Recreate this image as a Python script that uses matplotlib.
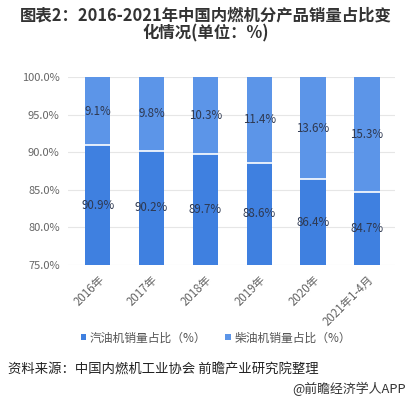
import matplotlib
matplotlib.use("Agg")
import matplotlib.pyplot as plt
import numpy as np

plt.rcParams['font.family'] = ['Noto Sans CJK SC', 'DejaVu Sans']

categories = ["2016年", "2017年", "2018年", "2019年", "2020年", "2021年1-4月"]
gasoline = [90.9, 90.2, 89.7, 88.6, 86.4, 84.7]
diesel = [9.1, 9.8, 10.3, 11.4, 13.6, 15.3]
yticks = [75, 80, 85, 90, 95, 100]

c_gas = "#3f80e0"
c_die = "#5c95e8"

fig = plt.figure(figsize=(4.11, 4.03), dpi=100)
ax = fig.add_axes([68/411, 1-265/403, (395-68)/411, (265-77)/403])

x = np.arange(len(categories))
w = 0.47
ax.bar(x, gasoline, w, bottom=0, color=c_gas, label="汽油机销量占比（%）", zorder=3)
ax.bar(x, diesel, w, bottom=gasoline, color=c_die, label="柴油机销量占比（%）", zorder=3)
for xi, g in zip(x, gasoline):
    ax.plot([xi - w/2, xi + w/2], [g, g], color="white", lw=1.2, zorder=4)

for xi, g, d in zip(x, gasoline, diesel):
    ax.text(xi, (75 + g) / 2, f"{g:.1f}%", ha="center", va="center", fontsize=8.3, color="#2e3850", zorder=5)
    ax.text(xi, g + d / 2, f"{d:.1f}%", ha="center", va="center", fontsize=8.3, color="#2e3850", zorder=5)

ax.set_ylim(75, 100)
ax.set_xlim(-0.55, 5.52)
ax.set_yticks(yticks)
ax.set_yticklabels([f"{v:.1f}%" for v in yticks], fontsize=8, color="#666666")
ax.set_xticks(x)
ax.set_xticklabels(categories, rotation=45, ha="right", rotation_mode="anchor", fontsize=8.3, color="#666666")
ax.tick_params(length=0, pad=6)
ax.grid(axis="y", color="#e6e6e6", lw=0.8, zorder=0)
for s in ax.spines.values():
    s.set_visible(False)

fig.text(0.5, 1-15/403, "图表2：2016-2021年中国内燃机分产品销量占比变", ha="center", va="center",
         fontsize=11.8, fontweight="bold", color="#333333")
fig.text(0.5, 1-33/403, "化情况(单位：%)", ha="center", va="center",
         fontsize=11.8, fontweight="bold", color="#333333")

fig.legend(loc="center", bbox_to_anchor=(216/411, 1-338/403), ncol=2, frameon=False, fontsize=8.5,
           handlelength=0.45, handleheight=0.45, handletextpad=0.3, columnspacing=1.6, labelcolor="#555555")

fig.text(8/411, 1-370/403, "资料来源：中国内燃机工业协会 前瞻产业研究院整理", ha="left", va="center",
         fontsize=9.6, color="#222222")
fig.text(406/411, 1-389/403, "@前瞻经济学人APP", ha="right", va="center", fontsize=9.3, color="#333333")

fig.savefig("out.png", dpi=100)
